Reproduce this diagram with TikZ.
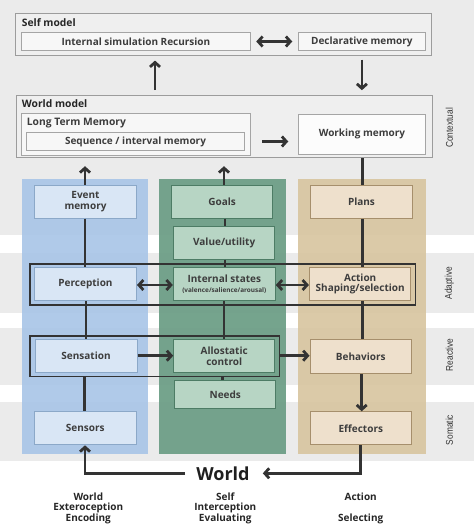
\documentclass[tikz,border=0pt]{standalone}
\usepackage{fontspec}
\setmainfont{Open Sans}
\newfontfamily\condfont[FakeStretch=0.85]{Liberation Sans}
\usetikzlibrary{arrows.meta,calc}
\definecolor{bandg}{HTML}{EBEBEB}
\definecolor{colblue}{HTML}{A9C6E7}
\definecolor{colgreen}{HTML}{6E9F87}
\definecolor{coltan}{HTML}{D8C6A1}
\definecolor{bfill}{HTML}{D9E6F5}
\definecolor{bdraw}{HTML}{8BA8C8}
\definecolor{gfill}{HTML}{B7D5C4}
\definecolor{gdraw}{HTML}{4D7C65}
\definecolor{tfill}{HTML}{EEE0CC}
\definecolor{tdraw}{HTML}{A68F6C}
\definecolor{lfill}{HTML}{F7F7F7}
\definecolor{ldraw}{HTML}{A5A5A5}
\definecolor{ofill}{HTML}{EFEFEF}
\definecolor{odraw}{HTML}{9C9C9C}
\definecolor{ink}{HTML}{333333}
\definecolor{txt}{HTML}{3D3D3D}
\tikzset{
  box/.style={rectangle, inner sep=0pt, line width=1pt, align=center, text=txt,
    font=\fontsize{10}{10.5}\selectfont\bfseries},
  bbox/.style={box, fill=bfill, draw=bdraw, minimum width=102pt, minimum height=33pt},
  gbox/.style={box, fill=gfill, draw=gdraw, minimum width=101pt, minimum height=33pt},
  tbox/.style={box, fill=tfill, draw=tdraw, minimum width=101.5pt, minimum height=33pt},
  lbox/.style={box, fill=lfill, draw=ldraw},
  obox/.style={box, fill=ofill, draw=odraw},
  outl/.style={rectangle, inner sep=0pt, draw=ink, line width=1.4pt},
  conn/.style={draw=ink, line width=2.8pt},
  arr/.style={-{Straight Barb[length=4.5pt,width=10pt]}},
  darr/.style={{Straight Barb[length=4.5pt,width=10pt]}-{Straight Barb[length=4.5pt,width=10pt]}},
  hdr/.style={anchor=west, inner sep=0pt, text=black!85, font=\fontsize{10.3}{11}\selectfont\bfseries},
  side/.style={rotate=90, inner sep=0pt, text=ink, font=\condfont\fontsize{9.8}{12}\selectfont},
  lab/.style={align=center, inner sep=0pt, text=black!85, font=\fontsize{10}{10.6}\selectfont\bfseries},
}
\begin{document}
\begin{tikzpicture}[x=1pt,y=-1pt]
\useasboundingbox (0,0) rectangle (474,525);
% bands
\fill[bandg] (0,0) rectangle (474,235);
\fill[bandg] (0,253.3) rectangle (474,312.7);
\fill[bandg] (0,328.3) rectangle (474,385);
\fill[bandg] (0,401.7) rectangle (474,460.7);
% columns
\fill[colblue, opacity=.92] (21.7,179) rectangle (148,454);
\fill[colgreen, opacity=.95] (159,179) rectangle (286,454);
\fill[coltan, opacity=.92] (298,179) rectangle (425.7,454);
% side labels
\node[side] (sctx) at (449.3,127.8) {Contextual};
\node[side] (sadp) at (449.3,283.3) {Adaptive};
\node[side] (srea) at (449.3,355) {Reactive};
\node[side] (ssom) at (449.3,430) {Somatic};
% self model
\node[obox, minimum width=415.7pt, minimum height=41.7pt] (self) at (223.8,34.2) {};
\node[hdr] (selft) at (21.7,22.5) {Self model};
\node[lbox, minimum width=229.7pt, minimum height=18.4pt] (isr) at (135.9,41.5) {Internal simulation Recursion};
\node[lbox, minimum width=126.3pt, minimum height=18.4pt] (decl) at (361.9,41.5) {Declarative memory};
% world model
\node[obox, minimum width=416.3pt, minimum height=62pt] (wmod) at (224.2,126.7) {};
\node[hdr] (wmodt) at (21.7,103.5) {World model};
\node[lbox, minimum width=229.7pt, minimum height=41.7pt] (ltm) at (135.9,134.2) {};
\node[hdr, text=txt] (ltmt) at (26.7,122.7) {Long Term Memory};
\node[lbox, minimum width=217.6pt, minimum height=18.4pt] (seq) at (135.5,141.5) {Sequence / interval memory};
\node[lbox, fill=white!60!lfill, minimum width=126.3pt, minimum height=40pt] (wm) at (361.9,134.3) {Working memory};
% outlines
\node[outl, minimum width=385.7pt, minimum height=41pt] (adapt) at (222.85,284.5) {};
\node[outl, minimum width=249.3pt, minimum height=40.7pt] (react) at (154.65,356.35) {};
% blue column
\node[bbox] (event) at (85.5,201.7) {Event\\memory};
\node[bbox] (perc) at (85.5,284) {Perception};
\node[bbox] (sensa) at (86,355.8) {Sensation};
\node[bbox] (senso) at (85.3,428.3) {Sensors};
% green column
\node[gbox] (goals) at (222.2,201.7) {Goals};
\node[gbox] (value) at (224.2,242.5) {Value/utility};
\node[gbox, minimum width=102pt] (inter) at (224.3,284) {Internal states\\[-0.5pt]{\fontsize{6.4}{7}\selectfont(valence/salience/arousal)}};
\node[gbox] (allo) at (224.2,356) {Allostatic\\control};
\node[gbox, minimum height=28.3pt] (needs) at (225.3,394.8) {Needs};
% tan column
\node[tbox] (plans) at (361.5,201.7) {Plans};
\node[tbox] (action) at (360.2,284) {Action\\Shaping/selection};
\node[tbox, minimum height=34pt] (behav) at (360.8,356.3) {Behaviors};
\node[tbox] (effec) at (360.8,428.3) {Effectors};
% world + bottom labels
\node[inner sep=3pt, text=black!88, font=\fontsize{18}{19}\selectfont\bfseries] (world) at (223,473.3) {World};
\node[lab] (lenc) at (88.3,508.3) {World\\Exteroception\\Encoding};
\node[lab] (leva) at (225.3,508.3) {Self\\Interception\\Evaluating};
\node[lab] (lsel) at (360.7,508.3) {Action\\\mbox{}\\Selecting};
% connectors: contextual
\draw[conn, darr, shorten <=5pt, shorten >=6pt] (isr.east) -- (decl.west);
\draw[conn, arr, shorten <=5pt, shorten >=5pt] (wmod.north -| 155,0) -- (self.south -| 155,0);
\draw[conn, arr, shorten <=4pt, shorten >=5pt] (self.south -| decl.south) -- (wmod.north -| decl.south);
\draw[conn, arr, shorten <=11pt, shorten >=10pt] (ltm.east |- seq.east) -- (wm.west |- seq.east);
\draw[conn, arr, shorten >=8pt] (event.north -| 85,0) -- (wmod.south -| 85,0);
\draw[conn, arr, shorten >=8pt] (goals.north -| 224,0) -- (wmod.south -| 224,0);
\draw[conn] (wmod.south -| 362.7,0) -- (plans.north -| 362.7,0);
% columns
\draw[conn] (event.south -| 85,0) -- (perc.north -| 85,0);
\draw[conn] (goals.south -| 225,0) -- (value.north -| 225,0);
\draw[conn] (value.south -| 225,0) -- (inter.north -| 225,0);
\draw[conn] (plans.south -| 362.7,0) -- (action.north -| 362.7,0);
\draw[conn, darr] (perc.east |- 0,285) -- (inter.west |- 0,285);
\draw[conn, darr] (inter.east |- 0,285) -- (action.west |- 0,285);
\draw[conn] (perc.south -| 86,0) -- (sensa.north -| 86,0);
\draw[conn] (inter.south -| 224,0) -- (allo.north -| 224,0);
\draw[conn] (action.south -| 362.7,0) -- (behav.north -| 362.7,0);
\draw[conn, arr] (sensa.east |- 0,355.7) -- (allo.west |- 0,355.7);
\draw[conn, arr] (react.east |- 0,355.7) -- (behav.west |- 0,355.7);
\draw[conn] (react.south -| 222.7,0) -- (needs.north -| 222.7,0);
\draw[conn] (react.south -| 84.5,0) -- (senso.north -| 84.5,0);
\draw[conn, arr] (behav.south -| 361.7,0) -- (effec.north -| 361.7,0);
\draw[conn, arr, shorten >=10pt] (effec.south -| 360.3,0) |- (world.east);
\draw[conn, arr, shorten <=8pt] (world.west) -| (senso.south -| 85,0);
\end{tikzpicture}
\end{document}
